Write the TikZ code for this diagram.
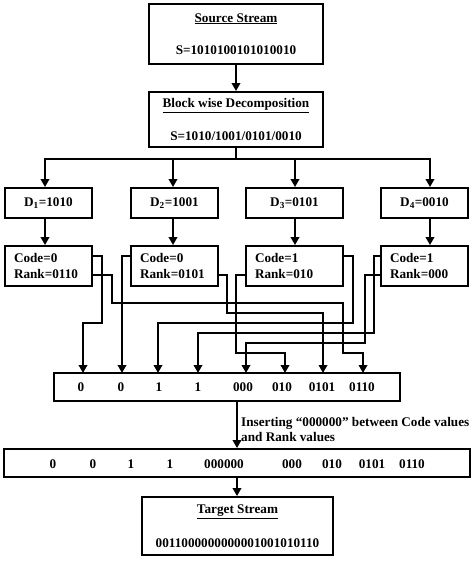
\documentclass[tikz,border=0pt]{standalone}
\usepackage{fontspec}
\setmainfont{Liberation Serif}
\usetikzlibrary{arrows.meta}
\begin{document}
\begin{tikzpicture}[x=1pt,y=-1pt,
  every node/.style={font=\fontsize{13.2}{15.5}\selectfont\bfseries},
  box/.style={draw, line width=1.9pt, inner sep=0pt, align=center},
  codebox/.style={draw, line width=1.9pt, inner xsep=9pt, inner ysep=0pt, align=left, minimum height=40pt},
  txt/.style={inner sep=0pt},
  wire/.style={line width=1.9pt},
  arr/.style={wire, -{Triangle[width=8.5pt,length=8pt]}},
]
\useasboundingbox (0,0) rectangle (474,561);
% top boxes
\node[box, minimum width=174pt, minimum height=60pt] (src) at (236,34)
  {\underline{Source Stream}\\[17pt]S=1010100101010010};
\node[box, minimum width=174pt, minimum height=55pt] (blk) at (236,119.5)
  {\underline{Block wise Decomposition}\\[17.5pt]S=1010/1001/0101/0010};
% D boxes
\node[box, minimum width=87pt, minimum height=30pt] (D1) at (48.5,203) {D\textsubscript{1}=1010};
\node[box, minimum width=87pt, minimum height=30pt] (D2) at (174.5,203) {D\textsubscript{2}=1001};
\node[box, minimum width=97pt, minimum height=30pt] (D3) at (294.5,203) {D\textsubscript{3}=0101};
\node[box, minimum width=87pt, minimum height=30pt] (D4) at (424.5,203) {D\textsubscript{4}=0010};
% Code boxes
\node[codebox, text width=69pt] (C1) at (48.5,266) {Code=0\\Rank=0110};
\node[codebox, text width=69pt] (C2) at (174.5,266) {Code=0\\Rank=0101};
\node[codebox, text width=79pt] (C3) at (294.5,266) {Code=1\\Rank=010};
\node[codebox, text width=69pt] (C4) at (424.5,266) {Code=1\\Rank=000};
% merged box
\node[box, minimum width=346pt, minimum height=28pt] (M) at (227,387) {};
\foreach \n/\x/\t in {1/81/0,2/121/0,3/159/1,4/198/1,5/243/000,6/282/010,7/322/0101,8/362/0110}
  \node[txt] (m\n) at (\x,387) {\t};
% second row box
\node[box, minimum width=466pt, minimum height=28pt] (B2) at (237,463) {};
\foreach \n/\x/\t in {1/53/0,2/93/0,3/131/1,4/170/1,5/224/000000,6/292/000,7/332/010,8/372/0101,9/412/0110}
  \node[txt] (b\n) at (\x,464) {\t};
% target
\node[box, minimum width=191pt, minimum height=58pt] (T) at (237.5,526)
  {\underline{Target Stream}\\[18pt]0011000000000001001010110};
% label
\node[txt, anchor=west, align=left] (lbl) at (241,429.5)
  {Inserting “000000” between Code values\\and Rank values};
% helper coordinates
\coordinate (a1) at (45,0);
\coordinate (a2) at (173,0);
\coordinate (a3) at (295,0);
\coordinate (a4) at (430,0);
\coordinate (br) at (236,159);
\coordinate (yc) at (0,256);
\coordinate (yr) at (0,275);
\foreach \n/\x in {1/83,2/122,3/158,4/198,5/246,6/285,7/323,8/363}
  \coordinate (s\n) at (\x,373);
% arrows top
\draw[arr] (src.south) -- (blk.north);
\draw[wire] (blk.south) -- (br);
\draw[arr] (br) -| (D1.north -| a1);
\draw[arr] (br) -| (D2.north -| a2);
\draw[arr] (br) -| (D3.north -| a3);
\draw[arr] (br) -| (D4.north -| a4);
\draw[arr] (D1.south -| a1) -- (C1.north -| a1);
\draw[arr] (D2.south -| a2) -- (C2.north -| a2);
\draw[arr] (D3.south -| a3) -- (C3.north -| a3);
\draw[arr] (D4.south -| a4) -- (C4.north -| a4);
% code connectors
\draw[arr] (C1.east |- yc) -| (102,323) -| (s1);
\draw[arr] (C2.west |- yc) -| (s2);
\draw[arr] (C3.east |- yc) -| (353,323) -| (s3);
\draw[arr] (C4.west |- yc) -| (374,333) -| (s4);
% rank connectors
\draw[arr] (C1.east |- yr) -| (112,303) -| (343,353) -| (s8);
\draw[arr] (C2.east |- yr) -| (227,313) -| (s7);
\draw[arr] (C3.west |- yr) -| (236,353) -| (s6);
\draw[arr] (C4.west |- yr) -| (365,343) -| (s5);
% lower arrows
\draw[arr] (M.south -| B2.north) -- (B2.north);
\draw[arr] (B2.south) -- (B2.south |- T.north);
\end{tikzpicture}
\end{document}
